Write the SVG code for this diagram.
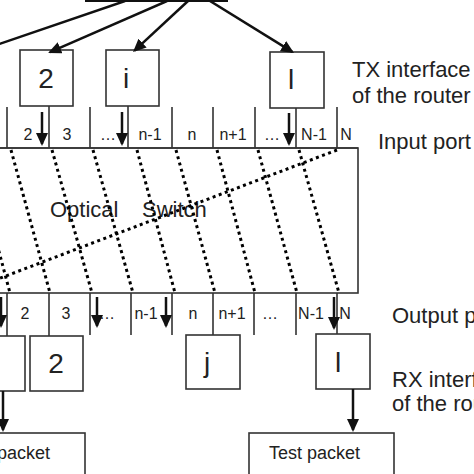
<svg xmlns="http://www.w3.org/2000/svg" width="474" height="474" viewBox="0 0 474 474">
<defs>
<marker id="ah" viewBox="0 0 13 12" refX="11" refY="6" markerWidth="13" markerHeight="12" markerUnits="userSpaceOnUse" orient="auto">
<path d="M0,0 L13,6 L0,12 Z" fill="#111"/>
</marker>
<style>
.box{fill:#fff;stroke:#333;stroke-width:1.6}
.sep{stroke:#333;stroke-width:1.6;fill:none}
.arr{stroke:#111;stroke-width:2.5;fill:none;marker-end:url(#ah)}
.ln{stroke:#111;stroke-width:2.5;fill:none}
.dot{stroke:#000;stroke-width:3;fill:none;stroke-dasharray:3 3.5}
.t{font-family:"Liberation Sans",Arial,sans-serif;fill:#222}
.big{font-size:28px;text-anchor:middle}
.cell{font-size:16px;text-anchor:middle}
.lab{font-size:22px}
.pk{font-size:18px}
</style>
</defs>
<rect x="0" y="0" width="474" height="474" fill="#fff"/>

<g id="source">
<rect x="85" y="-3" width="143" height="5" fill="#111"/>
</g>

<g id="switch">
<rect class="box" x="-10" y="148" width="368" height="145"/>
<text class="t" font-size="22" y="217"><tspan x="50">Optical</tspan><tspan x="142">Switch</tspan></text>
</g>

<g id="input-ports">
<line class="sep" x1="-5" y1="148" x2="358" y2="148"/>
<path class="sep" d="M7,107V148 M49,106V148 M90,107V148 M128,106V148 M172,107V148 M213,107V148 M255,107V148 M296,108V148 M337,107V148"/>
<g class="t cell">
<text x="28" y="140">2</text>
<text x="67" y="140">3</text>
<text x="108" y="140">…</text>
<text x="150" y="140">n-1</text>
<text x="192" y="140">n</text>
<text x="233" y="140">n+1</text>
<text x="272" y="140">…</text>
<text x="314" y="140">N-1</text>
<text x="346" y="140">N</text>
</g>
</g>

<g id="output-ports">
<path class="sep" d="M7,293V336 M49,293V336 M90,293V335 M131,293V335 M172,293V335 M213,293V335 M254,293V335 M296,293V335 M337,293V334"/>
<g class="t cell">
<text x="25" y="319">2</text>
<text x="66" y="319">3</text>
<text x="107" y="319">…</text>
<text x="146" y="319">n-1</text>
<text x="193" y="319">n</text>
<text x="232" y="319">n+1</text>
<text x="270" y="319">…</text>
<text x="311" y="319">N-1</text>
<text x="345" y="319">N</text>
</g>
</g>

<g id="tx-2"><rect class="box" x="20" y="50" width="53" height="56"/><text class="t big" x="46" y="88">2</text></g>
<g id="tx-i"><rect class="box" x="106" y="50" width="53" height="56"/><text class="t big" x="126" y="88">i</text></g>
<g id="tx-l"><rect class="box" x="270" y="52" width="54" height="56"/><text class="t big" x="291" y="89">l</text></g>

<g id="rx-1"><rect class="box" x="-30" y="336" width="55" height="55"/></g>
<g id="rx-2"><rect class="box" x="30" y="336" width="53" height="55"/><text class="t big" x="56" y="373">2</text></g>
<g id="rx-j"><rect class="box" x="186" y="335" width="54" height="54"/><text class="t big" x="207" y="372">j</text></g>
<g id="rx-l"><rect class="box" x="316" y="334" width="54" height="55"/><text class="t big" x="338" y="372">l</text></g>

<g id="packet-1"><rect class="box" x="-60" y="433" width="145" height="60"/><text class="t pk" x="-41" y="459">Test packet</text></g>
<g id="packet-2"><rect class="box" x="249" y="433" width="145" height="60"/><text class="t pk" x="269" y="459">Test packet</text></g>

<g id="labels" class="t lab">
<text x="352" y="77">TX interface</text>
<text x="352" y="103">of the router</text>
<text x="378" y="149">Input port</text>
<text x="392" y="323">Output port</text>
<text x="392" y="387">RX interface</text>
<text x="392" y="411">of the router</text>
</g>

<g id="connectors">
<line class="ln" x1="125" y1="1" x2="-30" y2="54"/>
<line class="arr" x1="167" y1="1" x2="50" y2="52.2"/>
<line class="arr" x1="188" y1="1" x2="134.5" y2="50.6"/>
<line class="arr" x1="210" y1="1" x2="292.3" y2="51.9"/>
<line class="arr" x1="42" y1="112" x2="42" y2="144"/>
<line class="arr" x1="122" y1="112" x2="122" y2="144"/>
<line class="arr" x1="289" y1="113" x2="289" y2="144"/>
<line class="arr" x1="1" y1="297" x2="1" y2="326"/>
<line class="arr" x1="97" y1="297" x2="97" y2="326"/>
<line class="arr" x1="166" y1="297" x2="166" y2="326"/>
<line class="arr" x1="334" y1="297" x2="334" y2="328"/>
<line class="arr" x1="3" y1="391" x2="3" y2="430"/>
<line class="arr" x1="353" y1="389" x2="353" y2="430"/>
<g id="paths">
<line class="dot" x1="-28" y1="150" x2="10" y2="293"/>
<line class="dot" x1="11" y1="150" x2="50" y2="293"/>
<line class="dot" x1="52" y1="150" x2="92" y2="293"/>
<line class="dot" x1="93" y1="150" x2="133" y2="293"/>
<line class="dot" x1="137" y1="150" x2="175" y2="293"/>
<line class="dot" x1="176" y1="150" x2="215" y2="293"/>
<line class="dot" x1="217" y1="150" x2="255" y2="293"/>
<line class="dot" x1="258" y1="150" x2="297" y2="293"/>
<line class="dot" x1="299" y1="150" x2="339" y2="293"/>
<line class="dot" x1="337" y1="150" x2="-10" y2="282"/>
</g>
</g>
</svg>
